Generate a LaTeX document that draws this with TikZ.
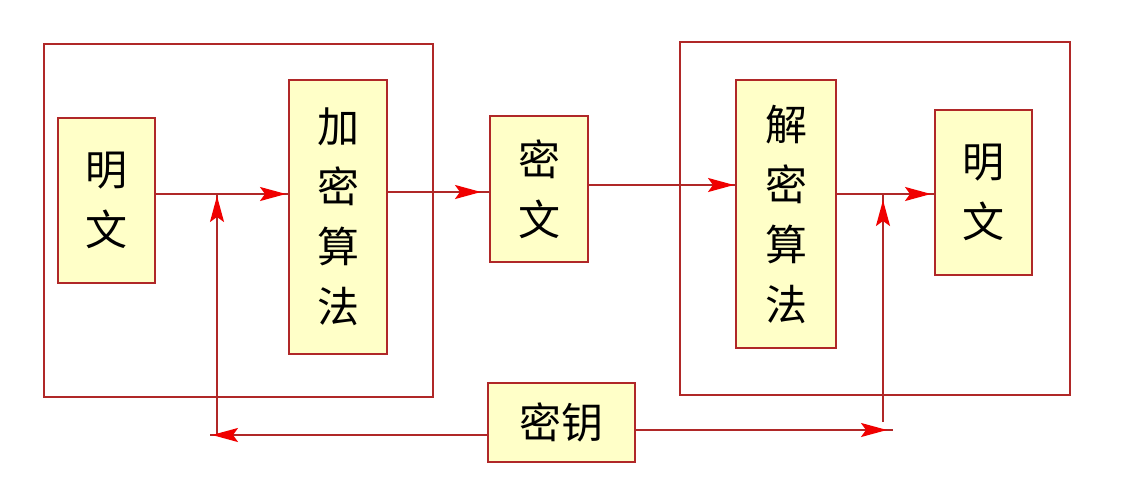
\documentclass[tikz,border=0pt]{standalone}
\usepackage{fontspec}
\newfontfamily\cjk{Noto Sans CJK SC}
\usetikzlibrary{arrows.meta,decorations.markings}
\definecolor{ln}{HTML}{B02828}
\definecolor{bx}{HTML}{FFFFC8}
\definecolor{ah}{HTML}{F00000}
\tikzset{
  frame/.style={draw=ln,line width=1pt},
  blk/.style={draw=ln,fill=bx,line width=1pt,inner sep=0pt,align=center,
    font=\cjk\fontsize{21}{30}\selectfont},
  conn/.style={draw=ln,line width=1pt,postaction={decorate},
    decoration={markings,mark=at position -#1 with {\arrow[ah]{Stealth[length=13pt,width=7pt,inset=2.5pt]}}}},
}
\begin{document}
\begin{tikzpicture}[x=0.5pt,y=-0.5pt]
\useasboundingbox (0,0) rectangle (1140,503);
% outer frames
\draw[frame] (44,44) rectangle (433,397);
\draw[frame] (680,42) rectangle (1070,395);
% blocks
\node[blk,minimum width=48.5pt,minimum height=82.5pt] (p1) at (106.5,200.5) {明\\文};
\node[blk,minimum width=49pt,minimum height=137pt] (enc) at (338,217) {加\\密\\算\\法};
\node[blk,minimum width=49pt,minimum height=73pt] (c) at (539,189) {密\\文};
\node[blk,minimum width=50pt,minimum height=134pt] (dec) at (786,214) {解\\密\\算\\法};
\node[blk,minimum width=48.5pt,minimum height=82.5pt] (p2) at (983.5,192.5) {明\\文};
\node[blk,minimum width=73.5pt,minimum height=39.5pt] (key) at (561.5,422.5) {密钥};
% helper coordinates
\coordinate (kL) at (210,435);
\coordinate (jL) at (217,194);
\coordinate (bL) at (217,435);
\coordinate (kR) at (893,430);
\coordinate (jR) at (883,194);
\coordinate (bR) at (883,422);
% connectors
\draw[conn=1pt] (p1.east |- jL) -- (enc.west |- jL);
\draw[conn=4pt] (enc.east |- 0,192) -- (c.west |- 0,192);
\draw[conn=0.5pt] (c.east |- 0,185) -- (dec.west |- 0,185);
\draw[conn=1.5pt] (dec.east |- jR) -- (p2.west |- jR);
\draw[conn=1pt] (bL) -- (jL);
\draw[conn=3pt] (bR) -- (jR);
\draw[conn=1pt] (key.west |- kL) -- (kL);
\draw[conn=3pt] (key.east |- kR) -- (kR);
\end{tikzpicture}
\end{document}
